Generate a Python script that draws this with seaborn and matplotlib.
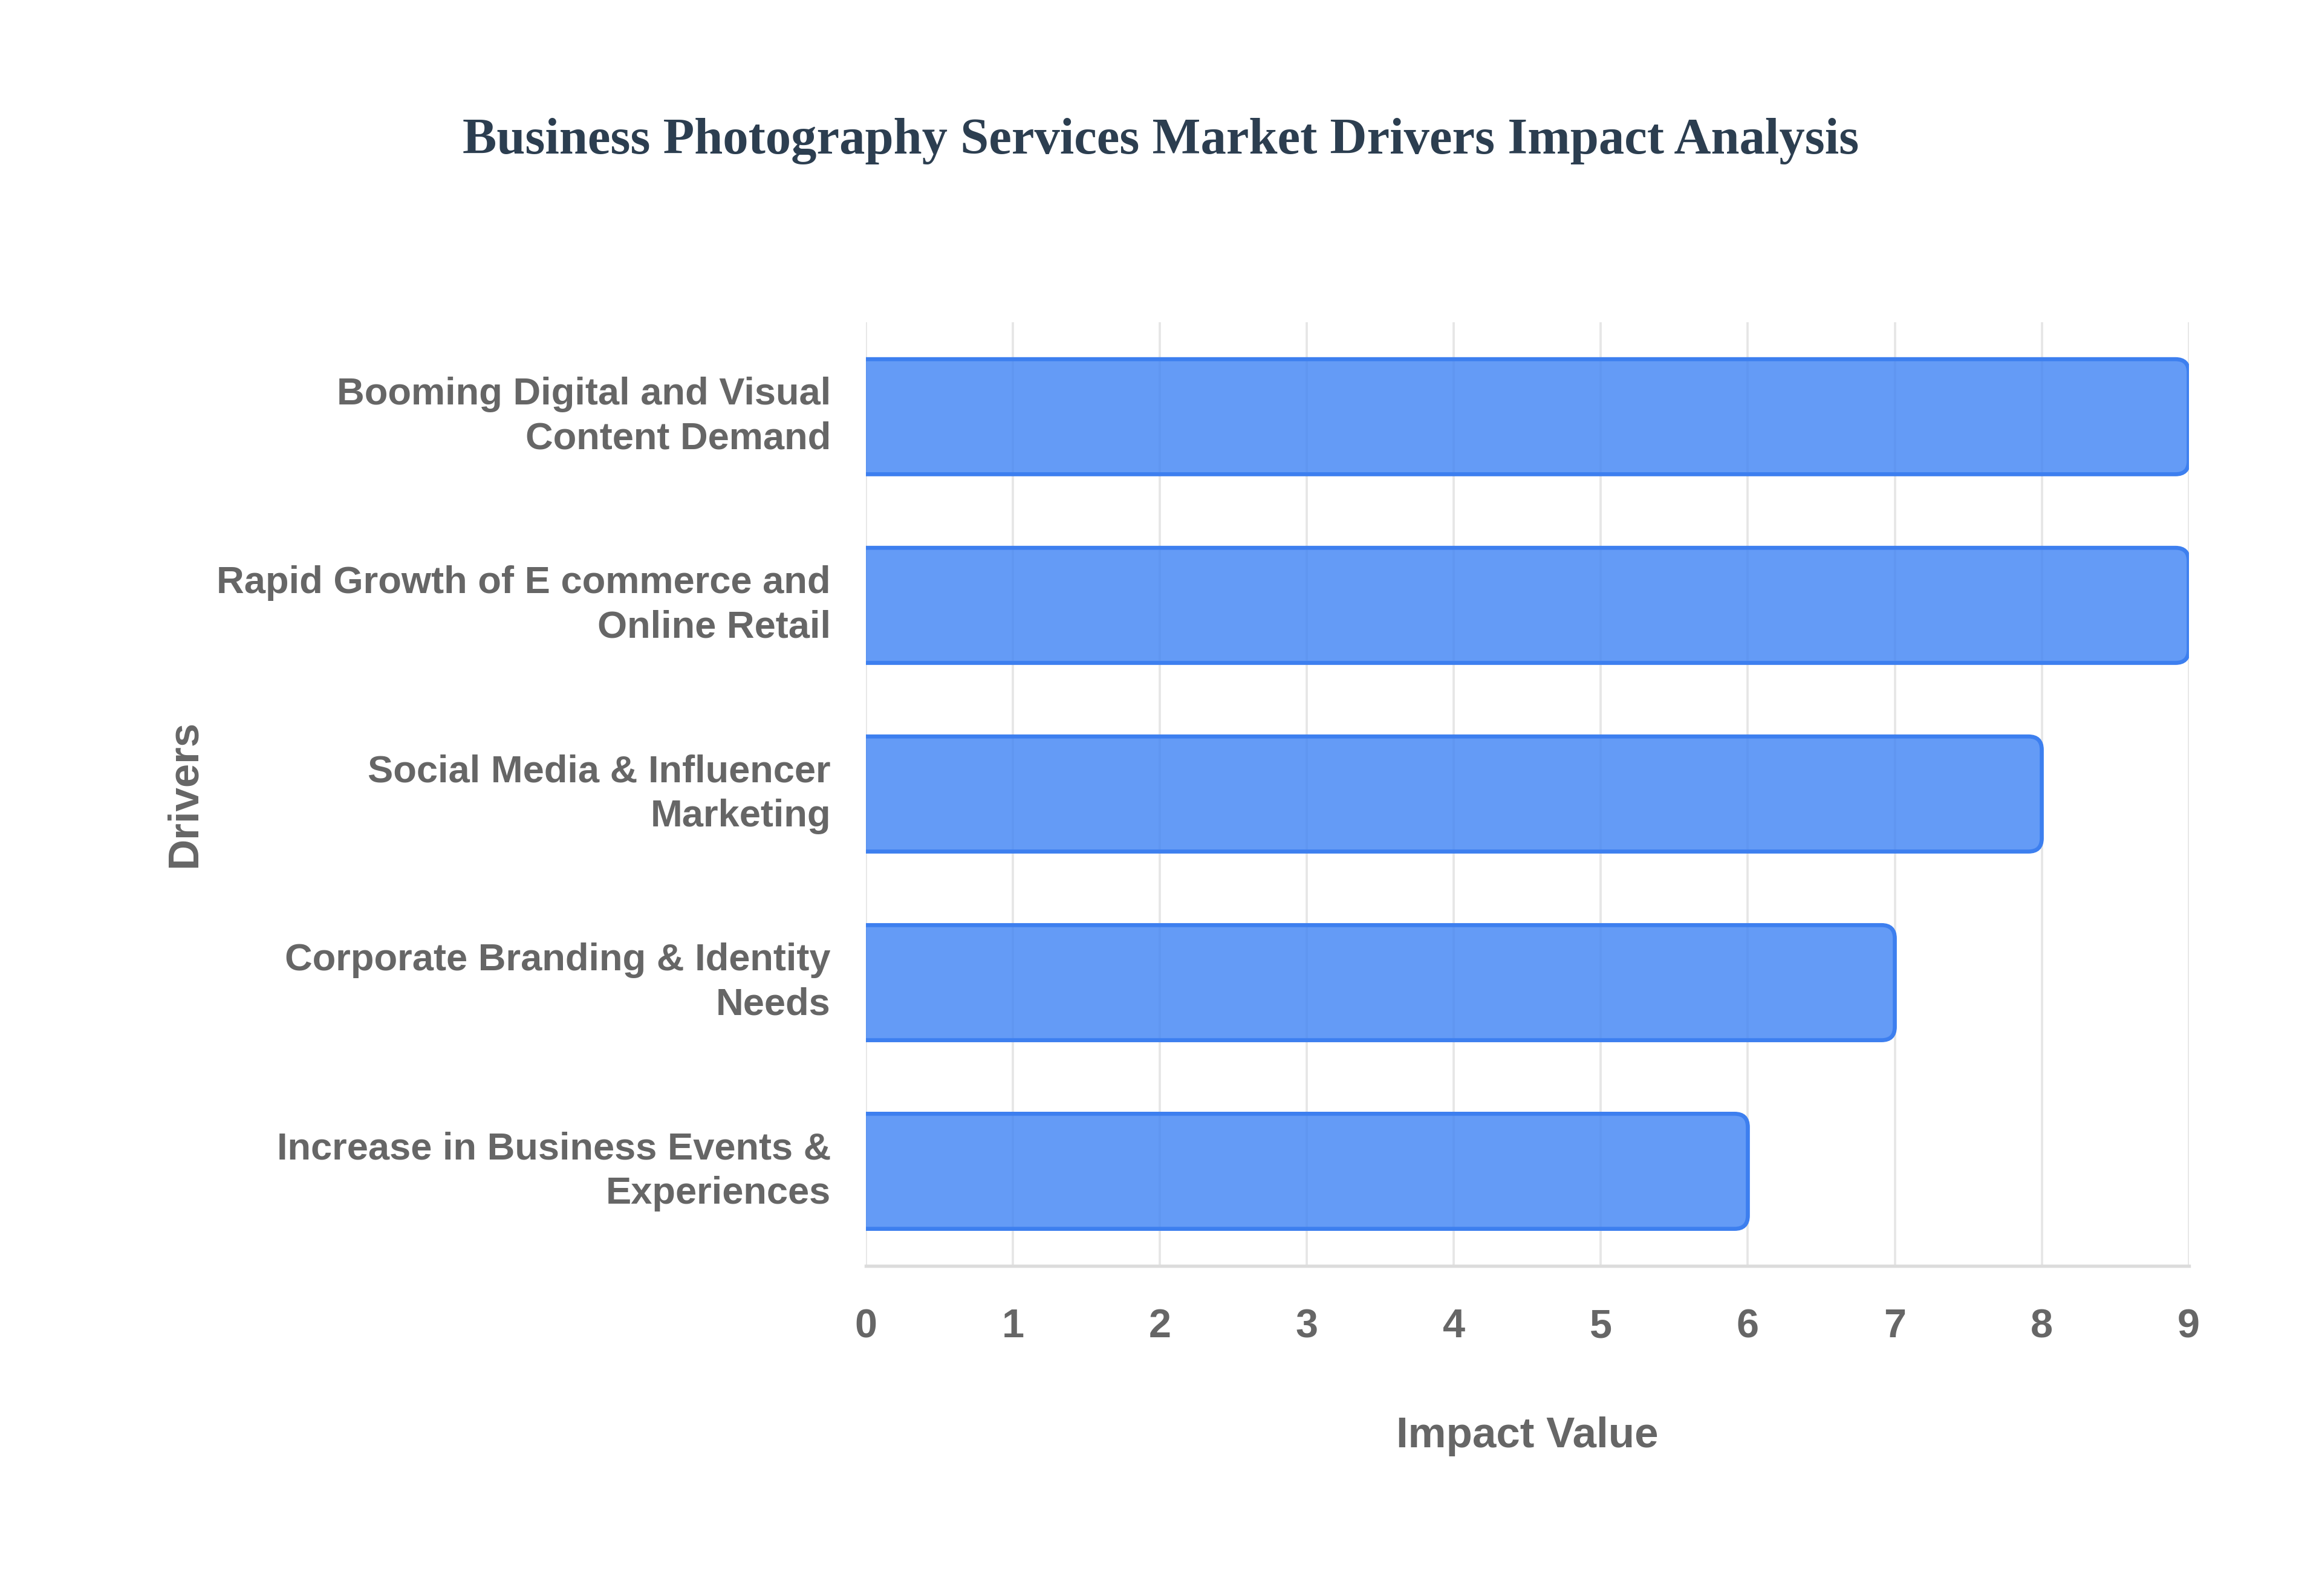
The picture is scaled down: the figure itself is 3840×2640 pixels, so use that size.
import textwrap
import pandas as pd
import matplotlib
matplotlib.use("Agg")
import matplotlib.pyplot as plt
from matplotlib.patches import FancyBboxPatch
import seaborn as sns

# data
drivers = [
    "Booming Digital and Visual Content Demand",
    "Rapid Growth of E commerce and Online Retail",
    "Social Media & Influencer Marketing",
    "Corporate Branding & Identity Needs",
    "Increase in Business Events & Experiences",
]
impact = [9, 9, 8, 7, 6]
xticks = [0, 1, 2, 3, 4, 5, 6, 7, 8, 9]

df = pd.DataFrame({"Driver": drivers, "Impact": impact})

sns.set_theme(style="white")
plt.rcParams["font.family"] = ["Liberation Sans", "DejaVu Sans"]

fig = plt.figure(figsize=(12.8, 8.8), dpi=300)
ax = fig.add_axes([0.373, 0.207, 0.5696, 0.591])

sns.barplot(data=df, x="Impact", y="Driver", orient="h", ax=ax,
            color="#4285F4", saturation=1, width=0.61, linewidth=0)

ax.set_xlim(0, 9)
ax.set_ylim(4.5, -0.5)

# swap the plain bars for ones with rounded ends
fig.canvas.draw()
px_x = ax.transData.transform((1, 0))[0] - ax.transData.transform((0, 0))[0]
px_y = abs(ax.transData.transform((0, 1))[1] - ax.transData.transform((0, 0))[1])
r = 0.09
for p in list(ax.patches):
    x, y, w, h = p.get_x(), p.get_y(), p.get_width(), p.get_height()
    p.remove()
    box = FancyBboxPatch((x - r, y), w + r, h,
                         boxstyle=f"round,pad=0,rounding_size={r}",
                         mutation_aspect=px_x / px_y,
                         facecolor=(0.259, 0.522, 0.957, 0.82),
                         edgecolor="#3d7fef", linewidth=1.6, zorder=3)
    ax.add_patch(box)
    box.set_clip_path(ax.patch)

ax.set_xticks(xticks)
ax.set_xticklabels([str(t) for t in xticks])
ax.set_yticks(range(len(drivers)))
ax.set_yticklabels([textwrap.fill(d, 30) for d in drivers],
                   ha="right", va="center", linespacing=1.32)

ax.grid(axis="x", color="#e6e6e6", linewidth=0.9, zorder=0)
ax.set_axisbelow(True)
for s in ["top", "right", "left"]:
    ax.spines[s].set_visible(False)
ax.spines["bottom"].set_color("#dcdcdc")
ax.spines["bottom"].set_linewidth(1.3)

ax.tick_params(axis="x", length=7.5, width=0.9, color="#e6e6e6",
               labelsize=16, labelcolor="#666666", pad=9.5)
ax.tick_params(axis="y", length=0, labelsize=15.2, labelcolor="#666666", pad=14)
for lab in ax.get_xticklabels() + ax.get_yticklabels():
    lab.set_fontweight("bold")

ax.set_xlabel("Impact Value", fontsize=17, fontweight="bold", color="#666666",
              labelpad=28)
ax.set_ylabel("Drivers", fontsize=17, fontweight="bold", color="#666666")
ax.yaxis.set_label_coords(-0.5, 0.5)

fig.suptitle("Business Photography Services Market Drivers Impact Analysis",
             x=0.5, y=0.926, fontsize=20.3, fontweight="bold", color="#2c3e50",
             family="Liberation Serif")

fig.savefig("out.png", dpi=300)
